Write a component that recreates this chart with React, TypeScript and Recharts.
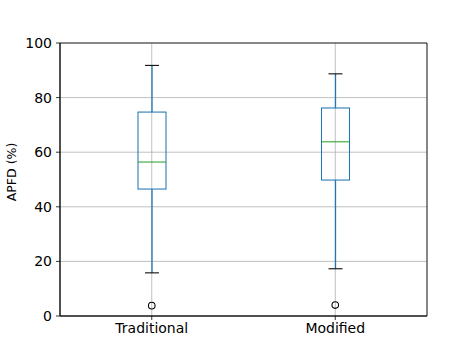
import React from 'react';
import { ComposedChart, Bar, Scatter, XAxis, YAxis, CartesianGrid, ReferenceArea } from 'recharts';

const categories = ['Traditional', 'Modified'];
const whiskerLow = [15.8, 17.3];
const q1 = [46.5, 49.8];
const median = [56.4, 63.8];
const q3 = [74.7, 76.2];
const whiskerHigh = [91.8, 88.7];
const outliers = [3.8, 4.0];
const yTicks = [0, 20, 40, 60, 80, 100];

const data = categories.map((name, i) => ({
  name,
  range: [whiskerLow[i], whiskerHigh[i]],
  min: whiskerLow[i],
  q1: q1[i],
  median: median[i],
  q3: q3[i],
  max: whiskerHigh[i],
  outlier: outliers[i],
}));

const FONT = '"DejaVu Sans", sans-serif';
const BLUE = '#1f77b4';
const GREEN = '#2ca02c';

const BoxShape = (props: any) => {
  const { x, y, width, height, payload } = props;
  if (!payload) return null;
  const top = Math.min(y, y + height);
  const h = Math.abs(height);
  const { min, max } = payload;
  const py = (v: number) => top + ((max - v) / (max - min)) * h;
  const cx = x + width / 2;
  const capHalf = width / 4;
  const yq1 = py(payload.q1);
  const yq3 = py(payload.q3);
  const ymed = py(payload.median);
  const ymin = py(min);
  const ymax = py(max);
  const ww = 1.3;
  return (
    <g>
      <rect x={cx - ww / 2} y={ymax} width={ww} height={yq3 - ymax} fill={BLUE} />
      <rect x={cx - ww / 2} y={yq1} width={ww} height={ymin - yq1} fill={BLUE} />
      <line x1={cx - capHalf} x2={cx + capHalf} y1={ymax} y2={ymax} stroke="#000" strokeWidth={1.05} />
      <line x1={cx - capHalf} x2={cx + capHalf} y1={ymin} y2={ymin} stroke="#000" strokeWidth={1.05} />
      <rect x={x} y={yq3} width={width} height={yq1 - yq3} fill="none" stroke={BLUE} strokeWidth={1.05} />
      <line x1={x} x2={x + width} y1={ymed} y2={ymed} stroke={GREEN} strokeWidth={1.05} />
    </g>
  );
};

const OutlierShape = (props: any) => {
  const { cx, cy } = props;
  return <circle cx={cx} cy={cy} r={3.3} fill="none" stroke="#000" strokeWidth={1.05} />;
};

const YLabel = () => (
  <text
    x={15.5}
    y={172}
    transform="rotate(-90 15.5 172)"
    textAnchor="middle"
    fontSize={12.5}
    fontFamily={FONT}
    fill="#000"
  >
    APFD (%)
  </text>
);

export default function App() {
  return (
    <div style={{ position: 'absolute', left: 0, top: 0 }}>
      <ComposedChart
        width={474}
        height={355}
        data={data}
        margin={{ top: 43, right: 47, bottom: 0, left: 0 }}
      >
        <CartesianGrid stroke="#b0b0b0" strokeWidth={0.8} />
        <XAxis
          dataKey="name"
          height={39}
          tickSize={4}
          tickMargin={3}
          tick={{ fontSize: 14, fontFamily: FONT, fill: '#000' }}
          tickLine={{ stroke: '#000', strokeWidth: 0.8 }}
          axisLine={{ stroke: '#000', strokeWidth: 0.8 }}
        />
        <YAxis
          width={60}
          domain={[0, 100]}
          ticks={yTicks}
          tickSize={4}
          tickMargin={4}
          tick={{ fontSize: 14, fontFamily: FONT, fill: '#000' }}
          tickLine={{ stroke: '#000', strokeWidth: 0.8 }}
          axisLine={{ stroke: '#000', strokeWidth: 0.8 }}
          label={<YLabel />}
        />
        <ReferenceArea y1={0} y2={100} fill="none" fillOpacity={0} stroke="#000" strokeWidth={0.8} strokeOpacity={1} />
        <Bar dataKey="range" barSize={28} shape={<BoxShape />} isAnimationActive={false} />
        <Scatter dataKey="outlier" shape={<OutlierShape />} isAnimationActive={false} />
      </ComposedChart>
    </div>
  );
}
